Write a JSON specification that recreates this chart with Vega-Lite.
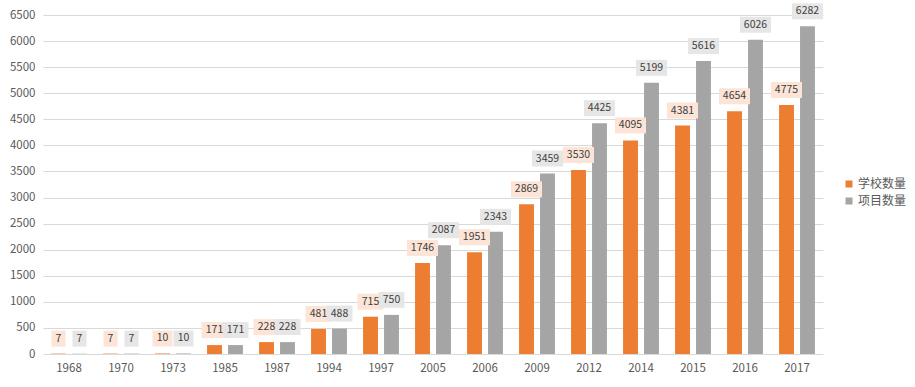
{
  "$schema": "https://vega.github.io/schema/vega-lite/v6.json",
  "autosize": {"type": "none"},
  "width": 780,
  "height": 339,
  "padding": {"left": 43, "top": 15, "right": 92, "bottom": 33},
  "background": "white",
  "config": {
    "view": {"stroke": null},
    "font": "Noto Sans CJK SC",
    "axis": {"labelFont": "Noto Sans CJK SC", "labelColor": "#595959", "labelFontSize": 11.5}
  },
  "data": {
    "values": [
      {"year": "1968", "series": "学校数量", "value": 7},
      {"year": "1968", "series": "项目数量", "value": 7},
      {"year": "1970", "series": "学校数量", "value": 7},
      {"year": "1970", "series": "项目数量", "value": 7},
      {"year": "1973", "series": "学校数量", "value": 10},
      {"year": "1973", "series": "项目数量", "value": 10},
      {"year": "1985", "series": "学校数量", "value": 171},
      {"year": "1985", "series": "项目数量", "value": 171},
      {"year": "1987", "series": "学校数量", "value": 228},
      {"year": "1987", "series": "项目数量", "value": 228},
      {"year": "1994", "series": "学校数量", "value": 481},
      {"year": "1994", "series": "项目数量", "value": 488},
      {"year": "1997", "series": "学校数量", "value": 715},
      {"year": "1997", "series": "项目数量", "value": 750},
      {"year": "2005", "series": "学校数量", "value": 1746},
      {"year": "2005", "series": "项目数量", "value": 2087},
      {"year": "2006", "series": "学校数量", "value": 1951},
      {"year": "2006", "series": "项目数量", "value": 2343},
      {"year": "2009", "series": "学校数量", "value": 2869},
      {"year": "2009", "series": "项目数量", "value": 3459},
      {"year": "2012", "series": "学校数量", "value": 3530},
      {"year": "2012", "series": "项目数量", "value": 4425},
      {"year": "2014", "series": "学校数量", "value": 4095},
      {"year": "2014", "series": "项目数量", "value": 5199},
      {"year": "2015", "series": "学校数量", "value": 4381},
      {"year": "2015", "series": "项目数量", "value": 5616},
      {"year": "2016", "series": "学校数量", "value": 4654},
      {"year": "2016", "series": "项目数量", "value": 6026},
      {"year": "2017", "series": "学校数量", "value": 4775},
      {"year": "2017", "series": "项目数量", "value": 6282}
    ]
  },
  "encoding": {
    "x": {
      "field": "year", "type": "nominal", "sort": null,
      "scale": {"paddingInner": 0.31, "paddingOuter": 0.155},
      "axis": {"title": null, "labelAngle": 0, "ticks": false, "domain": false, "labelPadding": 8, "grid": false}
    },
    "xOffset": {"field": "series", "type": "nominal", "sort": ["学校数量", "项目数量"], "scale": {"paddingInner": 0.29}},
    "y": {
      "field": "value", "type": "quantitative",
      "scale": {"domain": [0, 6500], "nice": false, "zero": true},
      "axis": {"title": null, "format": "d", "labelOverlap": false, "tickCount": 14, "tickMinStep": 500, "values": [0,500,1000,1500,2000,2500,3000,3500,4000,4500,5000,5500,6000,6500], "tickSize": 0, "domain": false, "labelPadding": 8, "gridColor": "#D9D9D9", "gridWidth": 1}
    }
  },
  "layer": [
    {
      "mark": {"type": "bar"},
      "encoding": {
        "color": {
          "field": "series", "type": "nominal",
          "scale": {"domain": ["学校数量", "项目数量"], "range": ["#ED7D31", "#A5A5A5"]},
          "legend": {
            "title": null, "orient": "none", "legendX": 800, "legendY": 163,
            "symbolType": "square", "symbolSize": 49, "symbolStrokeWidth": 0,
            "labelFontSize": 12, "labelColor": "#595959", "labelFont": "Noto Sans CJK SC",
            "labelOffset": 3, "rowPadding": 5, "padding": 0
          }
        }
      }
    },
    {
      "transform": [{"filter": "datum.value < 10"}],
      "mark": {"type": "bar", "width": 14, "yOffset": -23, "y2Offset": -7},
      "encoding": {
        "y2": {"field": "value"},
        "fill": {"field": "series", "type": "nominal", "scale": {"domain": ["学校数量", "项目数量"], "range": ["#FCE4D6", "#E7E6E6"]}, "legend": null}
      }
    },
    {
      "transform": [{"filter": "datum.value >= 10 && datum.value < 100"}],
      "mark": {"type": "bar", "width": 20, "yOffset": -23, "y2Offset": -7},
      "encoding": {
        "y2": {"field": "value"},
        "fill": {"field": "series", "type": "nominal", "scale": {"domain": ["学校数量", "项目数量"], "range": ["#FCE4D6", "#E7E6E6"]}, "legend": null}
      }
    },
    {
      "transform": [{"filter": "datum.value >= 100 && datum.value < 1000"}],
      "mark": {"type": "bar", "width": 26, "yOffset": -23, "y2Offset": -7},
      "encoding": {
        "y2": {"field": "value"},
        "fill": {"field": "series", "type": "nominal", "scale": {"domain": ["学校数量", "项目数量"], "range": ["#FCE4D6", "#E7E6E6"]}, "legend": null}
      }
    },
    {
      "transform": [{"filter": "datum.value >= 1000"}],
      "mark": {"type": "bar", "width": 31, "yOffset": -23, "y2Offset": -7},
      "encoding": {
        "y2": {"field": "value"},
        "fill": {"field": "series", "type": "nominal", "scale": {"domain": ["学校数量", "项目数量"], "range": ["#FCE4D6", "#E7E6E6"]}, "legend": null}
      }
    },
    {
      "mark": {"type": "text", "dy": -15, "baseline": "middle", "align": "center", "fontSize": 10.5, "color": "#404040", "font": "Noto Sans CJK SC"},
      "encoding": {
        "text": {"field": "value", "type": "quantitative", "format": "d"}
      }
    }
  ]
}
